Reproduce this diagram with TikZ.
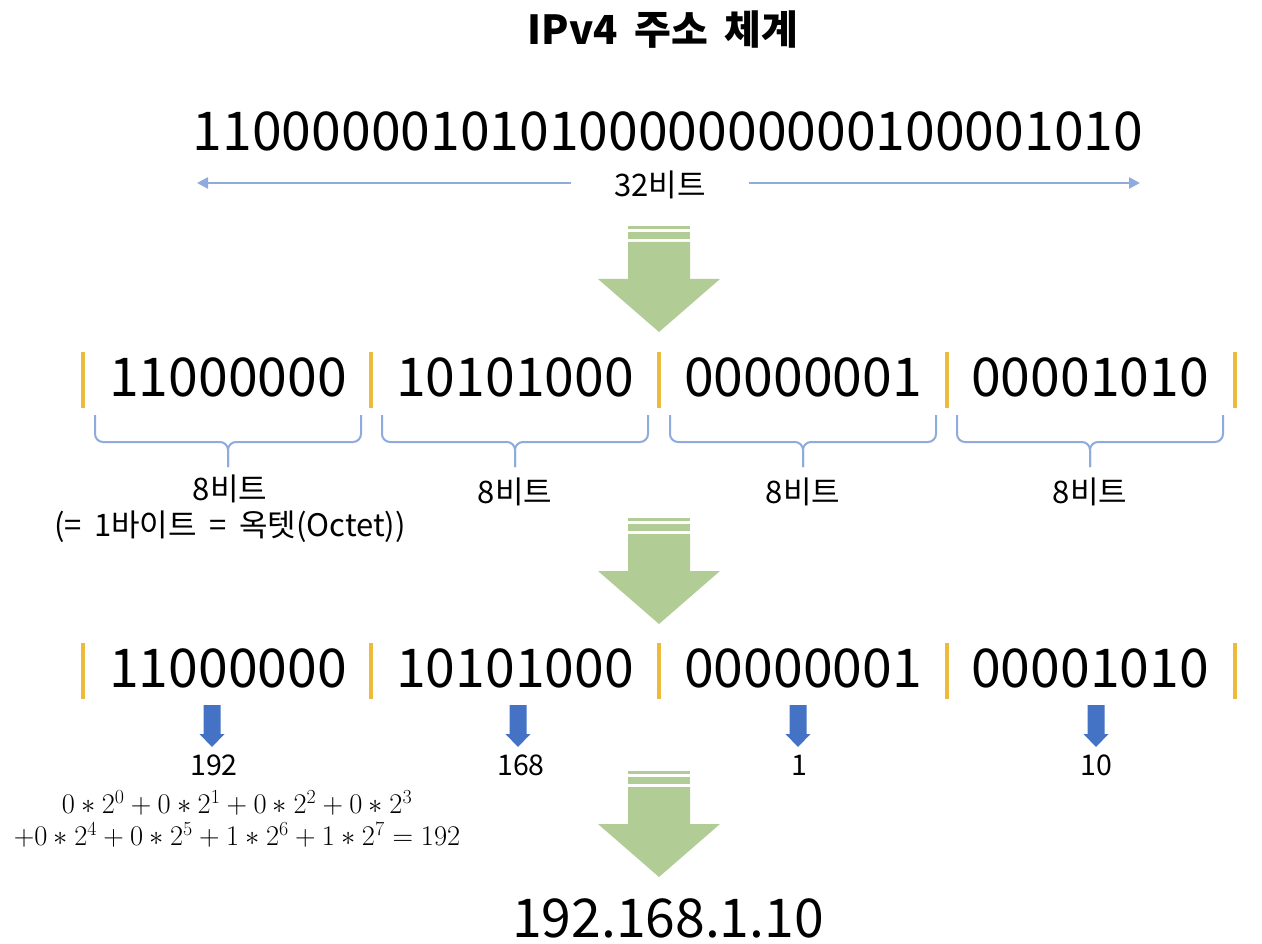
\RequirePackage{fix-cm}
\documentclass[tikz,border=0pt]{standalone}
\usepackage{fontspec}
\setmainfont{Noto Sans CJK KR}[WordSpace=1.8]
\usepackage{tikz}
\usetikzlibrary{positioning, arrows.meta}
\definecolor{arrowGreen}{RGB}{177,205,149}
\definecolor{barYellow}{RGB}{236,186,60}
\definecolor{braceBlue}{RGB}{143,170,220}
\definecolor{valueBlue}{RGB}{68,114,196}
\tikzstyle{diagram} = [x = 1pt, y = -1pt]
\tikzstyle{titleText} = [font=\fontsize{40}{44}\selectfont\bfseries]
\tikzstyle{bigBits} = [font=\fontsize{53.5}{60}\selectfont, inner sep=0]
\tikzstyle{smallText} = [font=\fontsize{31}{36}\selectfont, inner sep=0, align=center]
\tikzstyle{valueText} = [font=\fontsize{28.5}{33}\selectfont, inner sep=0]
\tikzstyle{mathText} = [font=\fontsize{28.5}{32}\selectfont, inner sep=0, align=center]
\tikzstyle{bitArrow} = [color=braceBlue, line width=2.5pt, -{Triangle[length=11pt, width=11pt]}]
\tikzstyle{braceLine} = [color=braceBlue, line width=2pt, rounded corners=8pt]
\tikzstyle{octetBar} = [color=barYellow, line width=4pt]
\newcommand{\greenArrow}[2]{
  \fill [arrowGreen] (#1 - 31, #2) rectangle (#1 + 31, #2 + 3);
  \fill [arrowGreen] (#1 - 31, #2 + 6) rectangle (#1 + 31, #2 + 13);
  \fill [arrowGreen] (#1 - 31, #2 + 16) -- (#1 + 31, #2 + 16) -- (#1 + 31, #2 + 53)
    -- (#1 + 61, #2 + 53) -- (#1, #2 + 106) -- (#1 - 61, #2 + 53) -- (#1 - 31, #2 + 53) -- cycle;
}
\newcommand{\blueArrow}[2]{
  \fill [valueBlue] (#1 - 8.5, #2) -- (#1 + 8.5, #2) -- (#1 + 8.5, #2 + 29) -- (#1 + 12.5, #2 + 29)
    -- (#1, #2 + 42) -- (#1 - 12.5, #2 + 29) -- (#1 - 8.5, #2 + 29) -- cycle;
}
\newcommand{\octetBrace}[1]{
  \draw [braceLine] (#1 - 133, 415) |- (#1, 442) -- (#1, 467);
  \draw [braceLine] (#1 + 133, 415) |- (#1, 442) -- (#1, 467);
}
\newcommand{\octetBars}[1]{
  \foreach \barX in {83,371,659,947,1235} {
    \draw [octetBar] (\barX, #1 - 28) -- (\barX, #1 + 28);
  }
}

\begin{document}
\begin{tikzpicture}[diagram]
  \useasboundingbox (0,0) rectangle (1262,944);

  \node [titleText] (title) at (663, 30) {IPv4 주소 체계};

  % 32 bits in one row
  \node [bigBits] (allBits) at (668, 131) {11000000101010000000000100001010};
  \node [smallText, inner xsep=43pt] (bitsLabel) at (660, 185) {32비트};
  \coordinate (bitsLeft) at (197, 183);
  \coordinate (bitsRight) at (1140, 183);
  \draw [bitArrow] (bitsLabel.west |- bitsLeft) -- (bitsLeft);
  \draw [bitArrow] (bitsLabel.east |- bitsRight) -- (bitsRight);

  \greenArrow{659}{226}

  % split into octets
  \octetBars{380}
  \foreach \i/\octetX/\octetBits in {1/228/11000000, 2/515/10101000, 3/803/00000001, 4/1090/00001010} {
    \node [bigBits] (octetA\i) at (\octetX, 377) {\octetBits};
    \octetBrace{\octetX}
  }
  \node [smallText, anchor=north] (sizeA1) at (230, 475) {8비트\\(= 1바이트 = 옥텟(Octet))};
  \node [smallText, anchor=north] (sizeA2) at (515, 478) {8비트};
  \node [smallText, anchor=north] (sizeA3) at (803, 478) {8비트};
  \node [smallText, anchor=north] (sizeA4) at (1090, 478) {8비트};

  \greenArrow{659}{518}

  % octets to decimal
  \octetBars{671}
  \foreach \i/\octetX/\octetBits/\arrowX/\valueX/\octetValue in {1/228/11000000/212/214/192, 2/515/10101000/518/521/168, 3/803/00000001/798/799/1, 4/1090/00001010/1096/1096/10} {
    \node [bigBits] (octetB\i) at (\octetX, 668) {\octetBits};
    \blueArrow{\arrowX}{705}
    \node [valueText] (value\i) at (\valueX, 765) {\octetValue};
  }
  \node [mathText] (valueSum) at (237, 819) {$0*2^0+0*2^1+0*2^2+0*2^3$\\$+0*2^4+0*2^5+1*2^6+1*2^7=192$};

  \greenArrow{659}{771}

  \node [bigBits] (address) at (668, 918) {192.168.1.10};
\end{tikzpicture}
\end{document}
